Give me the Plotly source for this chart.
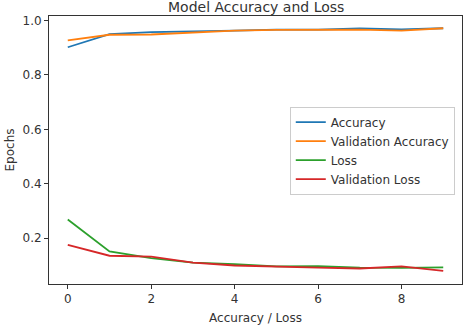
import plotly.graph_objects as go

epochs = list(range(10))
accuracy = [0.902, 0.950, 0.958, 0.960, 0.963, 0.967, 0.967, 0.971, 0.968, 0.972]
val_accuracy = [0.927, 0.948, 0.949, 0.955, 0.963, 0.966, 0.967, 0.967, 0.963, 0.972]
loss = [0.268, 0.151, 0.126, 0.110, 0.104, 0.096, 0.097, 0.091, 0.090, 0.092]
val_loss = [0.175, 0.135, 0.132, 0.110, 0.099, 0.094, 0.091, 0.088, 0.096, 0.079]

series = [
    ("Accuracy", accuracy, "#1f77b4"),
    ("Validation Accuracy", val_accuracy, "#ff7f0e"),
    ("Loss", loss, "#2ca02c"),
    ("Validation Loss", val_loss, "#d62728"),
]

fig = go.Figure()
for name, vals, col in series:
    fig.add_trace(go.Scatter(x=epochs, y=vals, mode="lines", name=name,
                             line=dict(color=col, width=1.8)))

font = "DejaVu Sans"
axis_common = dict(showline=True, linecolor="#333", linewidth=1, mirror=True,
                   ticks="outside", ticklen=4, tickcolor="#333", tickwidth=1,
                   showgrid=False, zeroline=False, automargin=False,
                   tickfont=dict(family=font, size=12, color="#333"))

fig.update_layout(
    width=474, height=326,
    margin=dict(l=49, r=12, t=16, b=42),
    paper_bgcolor="white", plot_bgcolor="white",
    font=dict(family=font, size=12, color="#333"),
    xaxis=dict(range=[-0.45, 9.45], tickvals=[0, 2, 4, 6, 8],
               title=dict(text="Accuracy / Loss", standoff=8,
                          font=dict(family=font, size=12, color="#333")),
               **axis_common),
    yaxis=dict(range=[0.031, 1.017], tickvals=[0.2, 0.4, 0.6, 0.8, 1.0],
               tickformat=".1f",
               title=dict(text="Epochs", standoff=5,
                          font=dict(family=font, size=12, color="#333")),
               **axis_common),
    legend=dict(x=0.583, y=0.662, xanchor="left", yanchor="top",
                bgcolor="rgba(255,255,255,0.8)", bordercolor="#ccc", borderwidth=1,
                tracegroupgap=0,
                font=dict(family=font, size=12, color="#333")),
    showlegend=True,
)

fig.add_annotation(text="Model Accuracy and Loss", xref="paper", yref="paper",
                   x=0.5, y=1.0, yshift=-1, xanchor="center", yanchor="bottom",
                   showarrow=False,
                   font=dict(family=font, size=14, color="#333"))

fig.write_html("out.html")
